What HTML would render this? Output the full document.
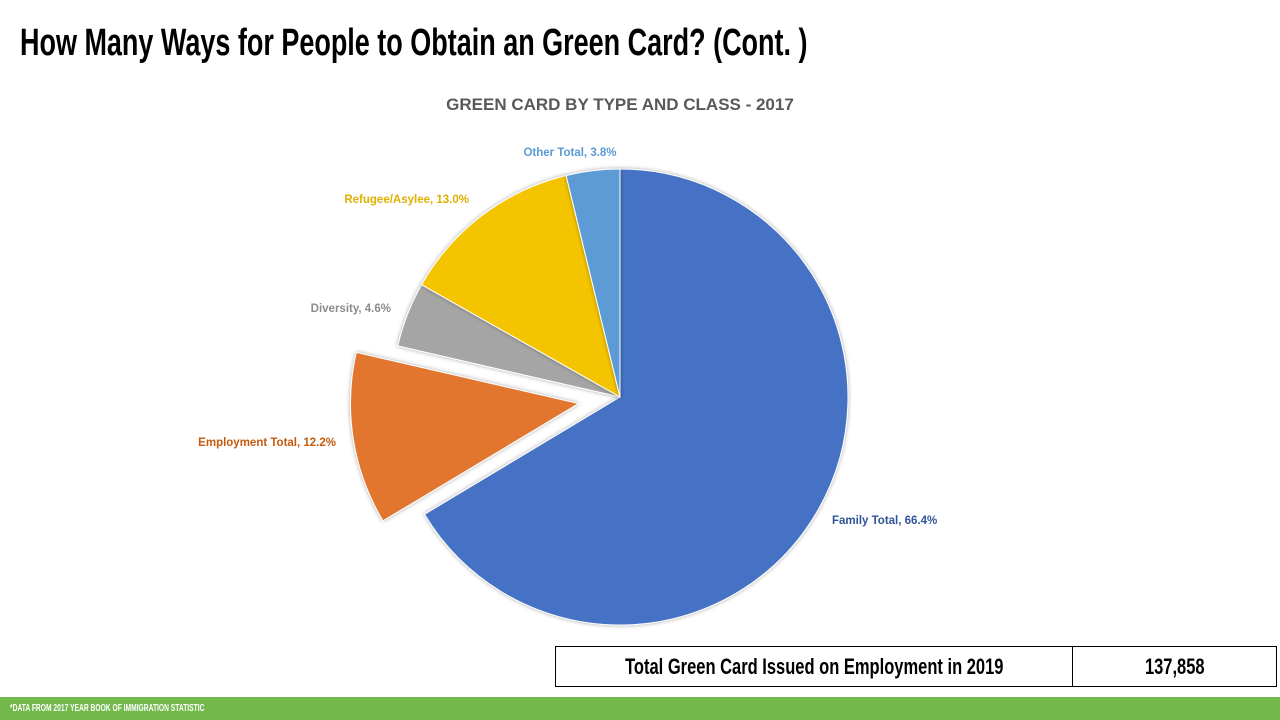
<!DOCTYPE html>
<html><head><meta charset="utf-8"><style>
body{margin:0;width:1280px;height:720px;background:#fff;position:relative;overflow:hidden;font-family:"Liberation Sans",sans-serif}
.title{position:absolute;left:20px;top:22px;font-size:38px;font-weight:bold;color:#000;transform:scaleX(0.71);transform-origin:left top;white-space:nowrap}
.ctitle{position:absolute;left:0;width:1240px;text-align:center;top:95px;font-size:17px;font-weight:bold;color:#595959}
.tbl{position:absolute;left:555px;top:646px;width:720px;height:39px;border:1px solid #000;display:flex}
.tbl div{display:flex;align-items:center;justify-content:center;font-weight:bold;font-size:22px}
.c1{width:516px;border-right:1px solid #000}.c2{flex:1}
.tbl span{display:inline-block;transform:scaleX(0.75)}
.foot{position:absolute;left:0;top:697px;width:1280px;height:23px;background:#72b84b}
.foot span{position:absolute;left:10px;top:6px;color:#fff;font-size:10px;font-weight:bold;transform:scaleX(0.67);transform-origin:left top;white-space:nowrap}
.lbl{font-size:11.5px;font-weight:bold}
</style></head><body>
<div class="title">How Many Ways for People to Obtain an Green Card? (Cont. )</div>
<div class="ctitle">GREEN CARD BY TYPE AND CLASS - 2017</div>
<svg id="pie" width="1280" height="720" style="position:absolute;left:0;top:0">
<defs><filter id="sh" x="-10%" y="-10%" width="120%" height="120%"><feGaussianBlur in="SourceAlpha" stdDeviation="2"/><feOffset dx="0" dy="0"/><feComponentTransfer><feFuncA type="linear" slope="0.35"/></feComponentTransfer><feMerge><feMergeNode/><feMergeNode in="SourceGraphic"/></feMerge></filter></defs>
</svg>
<div class="tbl"><div class="c1"><span>Total Green Card Issued on Employment in 2019</span></div><div class="c2"><span>137,858</span></div></div>
<div class="foot"><span>*DATA FROM 2017 YEAR BOOK OF IMMIGRATION STATISTIC</span></div>
<script>
const categories=["Family Total","Employment Total","Diversity","Refugee/Asylee","Other Total"];
const values=[66.4,12.2,4.6,13.0,3.8];
const colors=["#4472c4","#e2762f","#a5a5a5","#f5c400","#5b9bd5"];
const labelColors=["#2f5597","#c55a11","#8c8c8c","#e0b000","#5b9bd5"];
const exploded=[0,42,0,0,0];
const labelPos=[[832,524,"start"],[336,446,"end"],[391,312,"end"],[469,203,"end"],[570,156,"middle"]];
const cx=620,cy=397,R=228;
const svg=document.getElementById('pie');const NS="http://www.w3.org/2000/svg";
const total=values.reduce((a,b)=>a+b,0);
let acc=0;
values.forEach((v,i)=>{
 const a0=acc/total*2*Math.PI,a1=(acc+v)/total*2*Math.PI;acc+=v;
 const am=(a0+a1)/2,ox=exploded[i]*Math.sin(am),oy=-exploded[i]*Math.cos(am);
 const x=cx+ox,y=cy+oy;
 const p=(a)=>[x+R*Math.sin(a),y-R*Math.cos(a)];
 const [x0,y0]=p(a0),[x1,y1]=p(a1);
 const path=document.createElementNS(NS,'path');
 path.setAttribute('d',`M${x},${y}L${x0},${y0}A${R},${R} 0 ${a1-a0>Math.PI?1:0} 1 ${x1},${y1}Z`);
 path.setAttribute('fill',colors[i]);path.setAttribute('stroke','#fff');path.setAttribute('stroke-width','1');
 path.setAttribute('filter','url(#sh)');
 
 
 svg.appendChild(path);
 const t=document.createElementNS(NS,'text');
 t.setAttribute('x',labelPos[i][0]);t.setAttribute('y',labelPos[i][1]);t.setAttribute('text-anchor',labelPos[i][2]);
 t.setAttribute('class','lbl');t.setAttribute('fill',labelColors[i]);
 t.textContent=categories[i]+", "+v.toFixed(1)+"%";
 
 
 svg.appendChild(t);
});
</script>
</body></html>
